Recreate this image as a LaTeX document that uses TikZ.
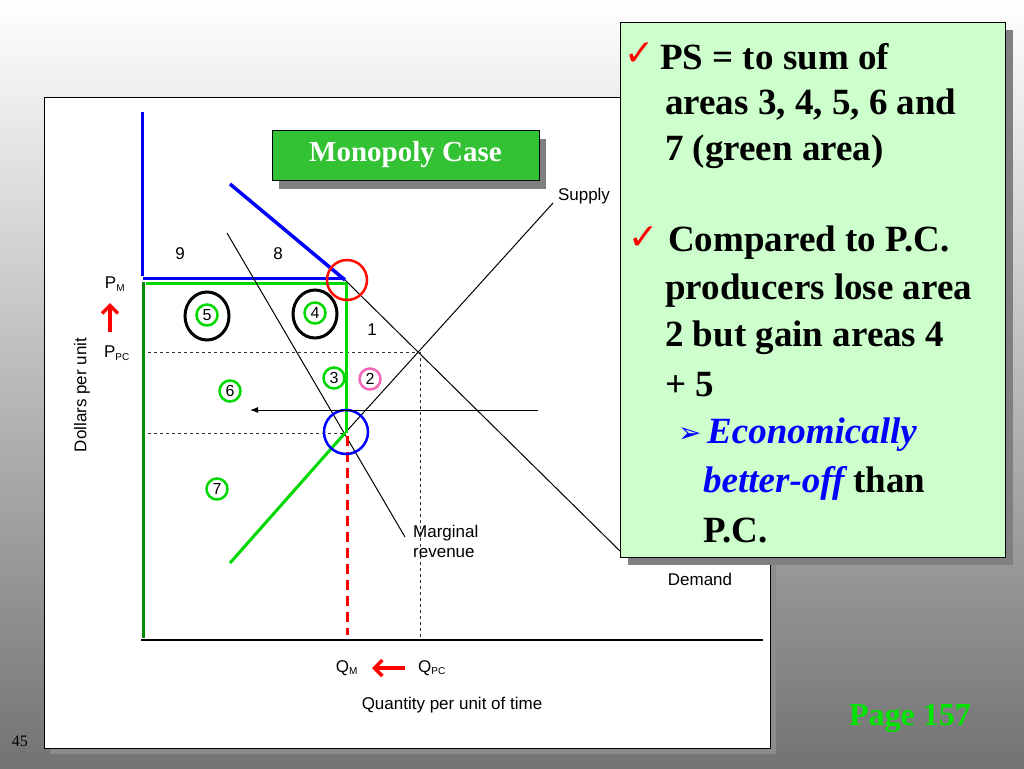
\documentclass[tikz,border=0pt]{standalone}
\usepackage{fontspec}
\usetikzlibrary{shapes.geometric,arrows.meta}
\setmainfont{Liberation Serif}
\setsansfont{Liberation Sans}
\newfontfamily\symf{DejaVu Sans}
\begin{document}
\begin{tikzpicture}[x=1pt,y=-1pt,
  lab/.style={font=\sffamily\fontsize{17}{20}\selectfont,inner sep=0pt},
  num/.style={circle,draw=green!85!black,line width=2.5pt,inner sep=1pt,minimum size=21pt,font=\sffamily\fontsize{16}{17}\selectfont},
  ring/.style={ellipse,draw=black,line width=3pt,minimum width=44pt,minimum height=48pt},
  big/.style={font=\bfseries\fontsize{37}{42}\selectfont,anchor=west,inner sep=0pt},
  chk/.style={font=\symf\bfseries\fontsize{36}{38}\selectfont,text=red,anchor=west,inner sep=0pt},
  dsh/.style={dashed,black!80,thin}]
\shade[top color=white,bottom color=black!55] (0,0) rectangle (1024,768);
\useasboundingbox (0,0) rectangle (1024,768);
% white panel
\fill[black!45] (50,103) rectangle (776,754);
\fill[white,draw=black,thick] (44,97) rectangle (770,748);
% axes
\draw[line width=1.5pt] (141,640) -- (763,640);
\draw[blue,line width=3pt] (142,112) -- (142,276);
\draw[green!55!black,line width=3pt] (143,282) -- (143,638);
% demand
\draw[line width=1pt] (345,280) -- (622,553);
\draw[blue,line width=3.5pt] (230,184) -- (345,280);
\draw[blue,line width=3pt] (143,278) -- (345,278);
\draw[green!85!black,line width=3pt] (146,283) -- (347,283);
% MR
\draw[line width=1pt] (227,233) -- (405,537);
% supply
\draw[line width=1pt] (345,433) -- (553,203);
\draw[green!85!black,line width=3pt] (230,563) -- (345,433);
% dashed
\draw[dsh] (148,352) -- (420,352);
\draw[dsh] (420,352) -- (420,640);
\draw[dsh] (148,433) -- (345,433);
\draw[green!85!black,line width=3pt] (346,283) -- (346,433);
\draw[red,line width=3pt,dash pattern=on 10pt off 6pt] (347,436) -- (347,635);
\draw[red!90!orange,line width=2.5pt] (347,280) circle (20);
\draw[blue,line width=2.5pt] (346,432) circle (22);
% arrow
\draw[line width=1pt,-{Latex[length=8pt,width=6pt]}] (538,410) -- (250,410);
% labels
\node[lab] (n9) at (180,254) {9};
\node[lab] (n8) at (278,254) {8};
\node[lab] (n1) at (372,330) {1};
\node[ring] (r5) at (207,316) {};
\node[num] (c5) at (207,315) {5};
\node[ring] (r4) at (315,314) {};
\node[num] (c4) at (315,313) {4};
\node[num] (c3) at (334,378) {3};
\node[num,draw=magenta!60] (c2) at (370,379) {2};
\node[num] (c6) at (230,391) {6};
\node[num] (c7) at (217,489) {7};
\node[lab] (pm) at (115,284) {P\textsubscript{\fontsize{10}{10}\selectfont M}};
\node[lab] (ppc) at (117,353) {P\textsubscript{\fontsize{10}{10}\selectfont PC}};
\coordinate (ua) at (110,332); \coordinate (ub) at (110,303);
\draw[red,line width=3.5pt,-{Straight Barb[length=8pt,width=16pt]}] (ua) -- (ub);
\node[lab,rotate=90] (yl) at (82,395) {Dollars per unit};
\node[lab] (qm) at (347,668) {Q\textsubscript{\fontsize{10}{10}\selectfont M}};
\node[lab] (qpc) at (432,668) {Q\textsubscript{\fontsize{10}{10}\selectfont PC}};
\draw[red,line width=3.5pt,-{Straight Barb[length=8pt,width=16pt]}] (405,668) -- (372,668);
\node[lab] (xl) at (452,705) {Quantity per unit of time};
\node[lab] (sup) at (584,196) {Supply};
\node[lab,align=left,anchor=west] (mr) at (413,541) {Marginal\\revenue};
\node[lab] (dem) at (700,579) {Demand};
% monopoly box
\fill[black!50] (279,139) rectangle (546,189);
\node[draw=black,fill=green!70!black!80,text=white,font=\bfseries\fontsize{29}{32}\selectfont,minimum width=267pt,minimum height=50pt,inner sep=0pt] (mono) at (405.5,155) {Monopoly Case};
% text box
\fill[black!50] (628,30) rectangle (1013,565);
\filldraw[fill=green!20,draw=black] (620,22) rectangle (1005,557);
\node[chk] (k1) at (624,54) {✓};
\node[big] (t1) at (660,57) {PS = to sum of};
\node[big] (t2) at (665,105) {areas 3, 4, 5, 6 and};
\node[big] (t3) at (665,152) {7 (green area)};
\node[chk] (k2) at (628,238) {✓};
\node[big] (t4) at (668,243) {Compared to P.C.};
\node[big] (t5) at (665,291) {producers lose area};
\node[big] (t6) at (665,338) {2 but gain areas 4};
\node[big] (t7) at (665,385) {+ 5};
\node[font=\symf\fontsize{28}{30}\selectfont,text=blue,anchor=west,inner sep=0pt] (ar) at (678,435) {➢};
\node[big,text=blue,font=\bfseries\itshape\fontsize{37}{42}\selectfont] (t8) at (707,435) {Economically};
\node[big] (t9) at (703,483) {\textcolor{blue}{\itshape better-off} than};
\node[big] (t10) at (703,531) {P.C.};
\node[font=\bfseries\fontsize{32}{34}\selectfont,text=green!90!black] (pg) at (910,718) {Page 157};
\node[font=\fontsize{16}{18}\selectfont] (pn) at (20,741) {45};
\end{tikzpicture}
\end{document}
